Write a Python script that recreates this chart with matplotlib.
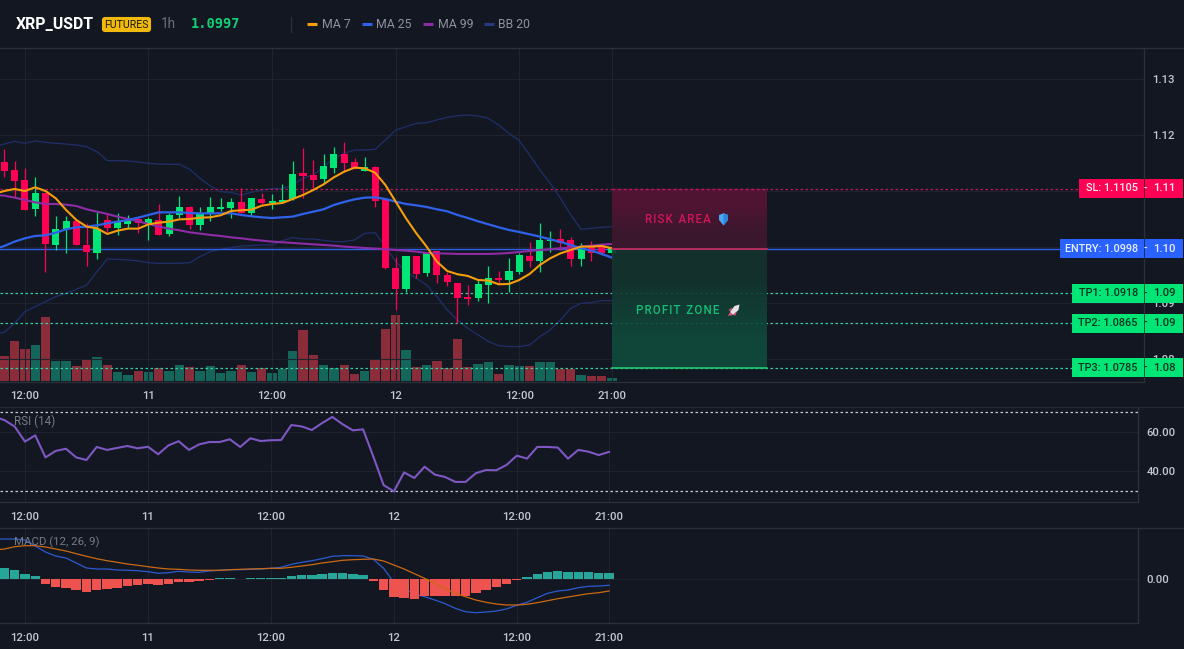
# XRP_USDT 1h futures dashboard: candles + volume + MAs + bands, RSI pane, MACD pane
import numpy as np
import matplotlib
matplotlib.use("Agg")
import matplotlib.pyplot as plt
from matplotlib.patches import Rectangle, Polygon, FancyBboxPatch

plt.rcParams['font.family'] = ['Roboto', 'DejaVu Sans']

W, H = 1184, 649
BG = '#131722'
GRID = '#1e232e'
BORDER = '#2b303b'
UP = '#00e676'
DOWN = '#ff0055'
TICK = '#c3c7cf'
BAND = '#202f6b'

# hourly candles, the first one is 10 Nov 06:00
opens = [1.11521,1.11384,1.11206,1.10688,1.10968,1.10045,1.10325,1.10474,1.10045,1.09896,
         1.10491,1.10349,1.10420,1.10503,1.10444,1.10491,1.10242,1.10581,1.10718,1.10402,
         1.10610,1.10688,1.10706,1.10813,1.10610,1.10866,1.10789,1.10807,1.10866,1.11336,
         1.11295,1.11217,1.11426,1.11670,1.11527,1.11372,1.11432,1.10860,1.09629,1.09260,
         1.09849,1.09539,1.09932,1.09516,1.09373,1.09123,1.09099,1.09331,1.09456,1.09420,
         1.09563,1.09849,1.09766,1.10117,1.10146,1.10128,1.09795,1.10027,1.10004,1.09908]
highs = [1.11753,1.11545,1.11414,1.11253,1.10968,1.10563,1.10563,1.10503,1.10444,1.10628,
         1.10610,1.10622,1.10581,1.10521,1.10539,1.10777,1.10610,1.10920,1.10741,1.10718,
         1.10896,1.10878,1.10878,1.11057,1.10878,1.10968,1.10956,1.11128,1.11539,1.11771,
         1.11562,1.11670,1.11789,1.11878,1.11592,1.11610,1.11455,1.10878,1.09837,1.09849,
         1.09849,1.09920,1.09944,1.09569,1.09373,1.09325,1.09420,1.09670,1.09587,1.09807,
         1.09896,1.10099,1.10432,1.10295,1.10331,1.10194,1.10087,1.10123,1.10045,1.10027]
lows = [1.11265,1.10908,1.10670,1.10563,1.09569,1.09956,1.09908,1.10045,1.09670,1.09801,
        1.10283,1.10230,1.10343,1.10265,1.10134,1.10224,1.10206,1.10521,1.10331,1.10313,
        1.10480,1.10658,1.10527,1.10610,1.10581,1.10777,1.10694,1.10789,1.10849,1.10878,
        1.11057,1.11146,1.11336,1.11354,1.11396,1.11372,1.10730,1.09611,1.08885,1.09212,
        1.09450,1.09492,1.09373,1.09313,1.08647,1.08974,1.09052,1.09016,1.09349,1.09206,
        1.09528,1.09658,1.09569,1.09926,1.09956,1.09670,1.09670,1.09766,1.09867,1.09885]
closes = [1.11372,1.11194,1.10670,1.10968,1.10063,1.10331,1.10474,1.10045,1.09920,1.10325,
          1.10349,1.10456,1.10491,1.10444,1.10509,1.10224,1.10581,1.10724,1.10402,1.10610,
          1.10724,1.10724,1.10813,1.10610,1.10878,1.10801,1.10831,1.10849,1.11313,1.11277,
          1.11206,1.11455,1.11670,1.11515,1.11426,1.11444,1.10837,1.09641,1.09266,1.09849,
          1.09528,1.09896,1.09516,1.09385,1.09105,1.09075,1.09349,1.09450,1.09420,1.09575,
          1.09861,1.09766,1.10128,1.10134,1.10087,1.09801,1.09968,1.09908,1.09908,1.09986]
volume = [25,40,32,36,64,20,20,15,21,24,16,9,6,10,9,13,10,16,14,10,15,8,10,16,9,13,8,12,30,51,
          26,16,13,16,7,10,21,52,66,31,14,16,20,13,42,14,17,19,7,16,15,15,19,19,12,12,6,5,5,3]

# overlays start one bar earlier than the candles
ma7 = [1.10956,1.11009,1.11045,1.11009,1.11075,1.11009,1.10878,1.10670,1.10491,1.10372,1.10343,
       1.10242,1.10301,1.10337,1.10337,1.10414,1.10444,1.10462,1.10503,1.10509,1.10533,
       1.10539,1.10575,1.10652,1.10664,1.10676,1.10747,1.10777,1.10795,1.10866,1.10938,
       1.11027,1.11128,1.11253,1.11354,1.11426,1.11414,1.11336,1.11116,1.10819,1.10521,
       1.10254,1.10016,1.09748,1.09581,1.09522,1.09492,1.09420,1.09409,1.09343,1.09349,
       1.09420,1.09528,1.09688,1.09807,1.09896,1.09956,1.10016,1.10016,1.10027,1.09986]
ma25 = [1.09968,1.10027,1.10105,1.10164,1.10206,1.10218,1.10265,1.10325,1.10361,1.10372,1.10396,
        1.10432,1.10462,1.10491,1.10533,1.10581,1.10628,1.10628,1.10628,1.10616,1.10610,
        1.10610,1.10610,1.10610,1.10581,1.10557,1.10539,1.10527,1.10539,1.10551,1.10599,
        1.10640,1.10682,1.10759,1.10813,1.10860,1.10890,1.10896,1.10866,1.10819,1.10777,
        1.10753,1.10724,1.10682,1.10646,1.10581,1.10527,1.10468,1.10414,1.10361,1.10313,
        1.10277,1.10236,1.10194,1.10146,1.10099,1.10045,1.09986,1.09944,1.09885,1.09819]
ma99 = [1.10938,1.10926,1.10890,1.10849,1.10807,1.10777,1.10777,1.10765,1.10741,1.10682,1.10640,
        1.10599,1.10551,1.10509,1.10468,1.10420,1.10372,1.10337,1.10307,1.10271,1.10248,
        1.10224,1.10206,1.10182,1.10164,1.10141,1.10123,1.10105,1.10093,1.10081,1.10069,
        1.10057,1.10045,1.10033,1.10016,1.10004,1.09992,1.09980,1.09968,1.09956,1.09944,
        1.09926,1.09902,1.09896,1.09891,1.09885,1.09885,1.09885,1.09885,1.09891,1.09902,
        1.09920,1.09938,1.09956,1.09968,1.09986,1.09998,1.10016,1.10033,1.10051,1.10063]
bb_upper = [1.11800,1.11848,1.11896,1.11860,1.11902,1.11878,1.11860,1.11848,1.11830,1.11800,1.11711,
            1.11551,1.11551,1.11545,1.11527,1.11503,1.11491,1.11485,1.11485,1.11396,1.11235,
            1.11098,1.10997,1.10985,1.10938,1.10985,1.11027,1.11051,1.11051,1.11116,1.11235,
            1.11295,1.11444,1.11592,1.11682,1.11741,1.11741,1.11753,1.11920,1.12098,1.12158,
            1.12217,1.12229,1.12277,1.12324,1.12354,1.12366,1.12348,1.12306,1.12187,1.12039,
            1.11908,1.11652,1.11384,1.11146,1.10878,1.10581,1.10325,1.10343,1.10361,1.10372]
bb_lower = [1.08457,1.08486,1.08647,1.08855,1.08945,1.09034,1.09123,1.09183,1.09254,1.09331,1.09569,
            1.09795,1.09789,1.09777,1.09760,1.09730,1.09718,1.09718,1.09718,1.09730,1.09837,
            1.09926,1.09968,1.09998,1.10027,1.10033,1.10045,1.10045,1.10123,1.10176,1.10152,
            1.10152,1.10128,1.10105,1.10105,1.10134,1.10254,1.10265,1.10016,1.09748,1.09569,
            1.09450,1.09331,1.09123,1.08885,1.08706,1.08558,1.08439,1.08320,1.08248,1.08231,
            1.08231,1.08260,1.08409,1.08528,1.08706,1.08915,1.09004,1.09016,1.09052,1.09052]

rsi = [67.5,65.9,62.6,55.0,58.2,47.0,50.3,51.4,47.0,45.7,52.3,50.8,51.8,52.8,51.6,52.4,48.6,53.1,55.2,50.8,53.6,
       54.8,54.8,56.2,52.3,56.7,55.3,55.7,55.8,63.4,62.7,60.9,64.4,67.5,63.8,60.7,61.2,47.4,33.0,29.8,39.4,
       36.6,42.3,38.3,37.1,34.6,34.6,39.0,40.6,40.5,43.2,47.9,46.4,52.3,52.3,52.0,46.4,50.8,49.9,48.2,49.8]

# MACD figures in units of 1e-4
macd_line = [40,40,40,39,33,27,23,21,16,11,10,10,9,8.7,8.3,7.3,5.7,6.3,7.7,7,6.7,
             8,8.7,9.3,9.3,9.7,10,10.7,11.7,14.7,16.7,18.3,20.3,22.7,23.3,23.3,23,19.7,10.7,-3.3,-9.3,
             -15,-17.7,-21,-24.7,-29.3,-32.7,-33.7,-33,-32,-30,-26.3,-23.3,-18.7,-14.3,-12,-11,-8.7,-7.3,-7,-6.3]
macd_signal = [29,30,32.3,33.3,33.3,32,30,28,25.3,22.7,20.3,18.3,16.7,15,13.7,12.3,11,10,9.7,9,8.7,
               8.7,8.7,9.3,9.7,10,10.3,10.7,10.7,11.7,13,14.3,16,17.3,18.7,19.3,19.7,20,18,14,10,
               5.3,0.7,-4.3,-9.3,-14.3,-17.7,-21,-23.3,-25,-26,-26,-25.3,-23.7,-21.7,-19.7,-18,-16.3,-14.7,-13.7,-12]
macd_hist = [11,9,5,3,-5.3,-8,-9.3,-11,-13,-11,-10,-9.3,-7,-6,-5,-6,-5,-3,-3,-2,
             -1,0.7,1,0.3,1,1,1,1,3,4,4,5,6,6,5,4,-1.7,-10.7,-18,-19,
             -20,-17,-17,-17,-17,-17,-14,-11,-8,-5,-0.7,2,5,7,8,7,7,7,6,6]

time_ticks = [2, 14, 26, 38, 50, 59]
time_labels = ['12:00', '11', '12:00', '12', '12:00', '21:00']
price_ticks = [1.13, 1.12, 1.11, 1.10, 1.09, 1.08]

sl_price = 1.1105
entry_price = 1.0998
tp_prices = [1.0918, 1.0865, 1.0785]
tp_names = ['TP1', 'TP2', 'TP3']

idx = np.arange(len(closes))
idx_ma = np.arange(-1, len(closes))


def pane(x0, y0, x1, y1):
    # axes box given in pixels from the top left corner
    return fig.add_axes([x0 / W, 1 - y1 / H, (x1 - x0) / W, (y1 - y0) / H])


def style_pane(ax, pad):
    ax.set_facecolor('none')
    ax.set_xticks(time_ticks)
    ax.set_xticklabels(time_labels, fontweight=500)
    ax.yaxis.tick_right()
    ax.grid(True, color=GRID, lw=0.8)
    ax.set_axisbelow(True)
    ax.tick_params(axis='x', length=0, pad=pad, labelsize=8.2, labelcolor=TICK)
    ax.tick_params(axis='y', length=0, pad=6, labelsize=8.2, labelcolor=TICK)
    for s in ['top', 'left']:
        ax.spines[s].set_visible(False)
    for s in ['right', 'bottom']:
        ax.spines[s].set_color(BORDER)
        ax.spines[s].set_linewidth(0.9)


def spaced(s):
    # letter spacing with hair spaces
    return '\u200a'.join(s)


fig = plt.figure(figsize=(W / 100, H / 100), dpi=100, facecolor=BG)

# volume sits in its own axes behind the price pane
ax_vol = pane(0, 48, 1144, 382)
ax_vol.set_facecolor(BG)
ax_vol.axis('off')
ax_vol.set_xlim(59 - 612 / 10.3, 59 + 532 / 10.3)
ax_vol.set_ylim(-1.3, 332.7)
vol_colors = ['#14665a' if c >= o else '#8a2c3a' for o, c in zip(opens, closes)]
ax_vol.bar(idx, volume, width=0.9, color=vol_colors)

ax = pane(0, 48, 1144, 382)
style_pane(ax, 6.5)
ax.set_xlim(59 - 612 / 10.3, 59 + 532 / 10.3)
ax.set_ylim(1.13 - 302.5 / 5600, 1.13 + 31.5 / 5600)
ax.set_yticks(price_ticks)
ax.set_yticklabels([f'{p:.2f}' for p in price_ticks], fontweight=500)

ax.plot(idx_ma, bb_upper, color=BAND, lw=0.9, zorder=2)
ax.plot(idx_ma, bb_lower, color=BAND, lw=0.9, zorder=2)

ax.axhline(entry_price, color='#2f62e8', lw=1, zorder=2)
ax.axhline(sl_price, color='#c2185b', lw=0.9, ls=(0, (2, 2)), zorder=2)
for tp in tp_prices:
    ax.axhline(tp, color='#33d1a0', lw=0.9, ls=(0, (2, 2)), zorder=2)

up = np.array(closes) >= np.array(opens)
cols = [UP if u else DOWN for u in up]
ax.vlines(idx, lows, highs, colors=cols, lw=0.9, zorder=3)
ax.bar(idx, np.abs(np.array(closes) - np.array(opens)), bottom=np.minimum(opens, closes),
       width=0.68, color=cols, zorder=3)

ax.plot(idx_ma, ma99, color='#8e2ca6', lw=1.5, zorder=4)
ax.plot(idx_ma, ma25, color='#2f62e8', lw=1.6, zorder=5)
ax.plot(idx_ma, ma7, color='#f59e0b', lw=1.5, zorder=6)

# risk / profit boxes, fading vertically
zone_x = [59, 59 + 155 / 10.3]
red_grad = np.array([[[84, 20, 52]], [[60, 24, 46]]], dtype=np.uint8)
green_grad = np.array([[[19, 52, 47]], [[16, 76, 60]]], dtype=np.uint8)
ax.imshow(red_grad, extent=[*zone_x, entry_price, sl_price], aspect='auto',
          interpolation='bilinear', alpha=0.96, zorder=7)
ax.imshow(green_grad, extent=[*zone_x, tp_prices[2], entry_price], aspect='auto',
          interpolation='bilinear', alpha=0.9, zorder=7)
ax.plot(zone_x, [sl_price] * 2, color='#c2185b', lw=1.0, ls=(0, (2, 2)), zorder=8)
ax.plot(zone_x, [entry_price] * 2, color='#d22b63', lw=1.2, zorder=8)
ax.plot(zone_x, [tp_prices[2]] * 2, color='#22c96e', lw=1.2, zorder=8)
ax.set_xlim(59 - 612 / 10.3, 59 + 532 / 10.3)
ax.set_ylim(1.13 - 302.5 / 5600, 1.13 + 31.5 / 5600)

# RSI pane
ax_rsi = pane(0, 407, 1138, 502)
style_pane(ax_rsi, 7)
ax_rsi.set_xlim(59 - 609 / 10.246, 59 + 529 / 10.246)
ax_rsi.set_ylim(24.43, 72.53)
ax_rsi.set_yticks([60, 40])
ax_rsi.set_yticklabels(['60.00', '40.00'], fontweight=500)
ax_rsi.axhline(70, color='#c6cad2', lw=0.9, ls=(0, (2, 2)))
ax_rsi.axhline(30, color='#c6cad2', lw=0.9, ls=(0, (2, 2)))
ax_rsi.plot(idx_ma, rsi, color='#7e57c2', lw=1.5)

# MACD pane
ax_macd = pane(0, 528, 1138, 623)
style_pane(ax_macd, 7)
ax_macd.set_xlim(59 - 609 / 10.246, 59 + 529 / 10.246)
ax_macd.set_ylim(-44, 51)
ax_macd.set_yticks([0])
ax_macd.set_yticklabels(['0.00'], fontweight=500)
hist_cols = ['#26a69a' if v >= 0 else '#ef5350' for v in macd_hist]
ax_macd.plot(idx_ma, macd_line, color='#2c5bd0', lw=0.9, zorder=2)
ax_macd.bar(idx, macd_hist, width=0.92, color=hist_cols, zorder=3)
ax_macd.plot(idx_ma, macd_signal, color='#cc6a12', lw=0.9, zorder=4)

# everything else is placed in pixel coordinates on a full-size overlay
top = fig.add_axes([0, 0, 1, 1], zorder=20)
top.set_xlim(0, W)
top.set_ylim(H, 0)
top.axis('off')

top.plot([0, W], [48, 48], color=BORDER, lw=0.9)
top.plot([0, W], [407, 407], color='#232833', lw=0.9)
top.plot([0, W], [528, 528], color=BORDER, lw=0.9)

# header
top.text(16, 24.5, 'XRP_USDT', color='white', fontsize=11.4, fontweight='bold', va='center')
top.add_patch(FancyBboxPatch((103, 18), 47, 13, boxstyle='round,pad=0,rounding_size=2', fc='#f0b90b', ec='#f0b90b', lw=1.5))
top.text(126.5, 24.8, 'FUTURES', color='#1c1a12', fontsize=7.6, va='center', ha='center')
top.text(161, 24.5, '1h', color='#6b7079', fontsize=9.8, va='center')
top.text(191, 24.5, '1.0997', color='#12cf75', fontsize=9.8, fontweight='bold', family='DejaVu Sans Mono', va='center')
top.plot([291, 291], [17, 32], color='#2b303b', lw=0.9)
legend_items = [(307, 'MA 7', '#f59e0b'), (362, 'MA 25', '#2f62e8'),
                (423, 'MA 99', '#8e2ca6'), (484, 'BB 20', '#273a80')]
for lx, name, c in legend_items:
    top.plot([lx, lx + 10], [24, 24], color=c, lw=2.2, solid_capstyle='butt')
    top.text(lx + 14.5, 24, name, color='#8d929c', fontsize=8.8, va='center')

# zone captions
top.text(678, 219.5, spaced('RISK') + '  ' + spaced('AREA'), color='#d4145a', fontsize=8.3, fontweight=500, ha='center', va='center')
top.text(678, 310, spaced('PROFIT') + '  ' + spaced('ZONE'), color='#12bf78', fontsize=8.3, fontweight=500, ha='center', va='center')

# little shield next to the risk caption
top.add_patch(Polygon([[719, 215], [723.5, 213.2], [728, 215], [728, 220], [723.5, 225.5], [719, 220]],
                      fc='#4aa6f2', ec='none'))
top.add_patch(Polygon([[723.5, 213.2], [728, 215], [728, 220], [723.5, 225.5]], fc='#2f86db', ec='none'))
# little rocket next to the profit caption
top.add_patch(Polygon([[739.5, 304.5], [738.5, 310], [733, 315], [730, 312], [734.5, 306]], fc='#e9dfe4', ec='none'))
top.add_patch(Polygon([[733, 315], [730, 312], [728, 316]], fc='#e0527c', ec='none'))
top.add_patch(Polygon([[732, 307.5], [728.5, 310], [731, 311.5]], fc='#e0527c', ec='none'))
top.add_patch(Polygon([[737, 311.5], [735, 316], [733.5, 314]], fc='#e0527c', ec='none'))

# pane captions
top.text(14, 421, 'RSI (14)', color='#757a85', fontsize=8.4, va='center')
top.text(14, 542, 'MACD (12, 26, 9)', color='#757a85', fontsize=8.2, va='center')


def price_tag(y, label, price, x0, fill, color):
    # tag across the axis border: level on the left, rounded price on the right
    top.add_patch(Rectangle((x0, y - 9.5), 1183 - x0, 19, fc=fill, ec='none'))
    top.text(1138, y, f'{label}: {price:.4f}', color=color, fontsize=7.8, fontweight=500, ha='right', va='center')
    top.text(1145.5, y, '-', color=color, fontsize=7.8, fontweight=500, ha='center', va='center')
    top.text(1153, y, f'{price:.2f}', color=color, fontsize=8.2, fontweight=500, ha='left', va='center')
    top.plot([1143.5, 1143.5], [y - 9.5, y + 9.5], color=BG, lw=0.7, alpha=0.7)


def price_y(p):
    return 79.5 + (1.13 - p) * 5600


price_tag(price_y(sl_price) - 0.2, 'SL', sl_price, 1079, '#ff0055', '#f7e9ee')
price_tag(price_y(entry_price), 'ENTRY', entry_price, 1060, '#2962ff', '#e8eeff')
for name, tp in zip(tp_names, tp_prices):
    price_tag(price_y(tp), name, tp, 1072, '#00e676', '#07331f')

fig.savefig('out.png', dpi=100, facecolor=BG)
